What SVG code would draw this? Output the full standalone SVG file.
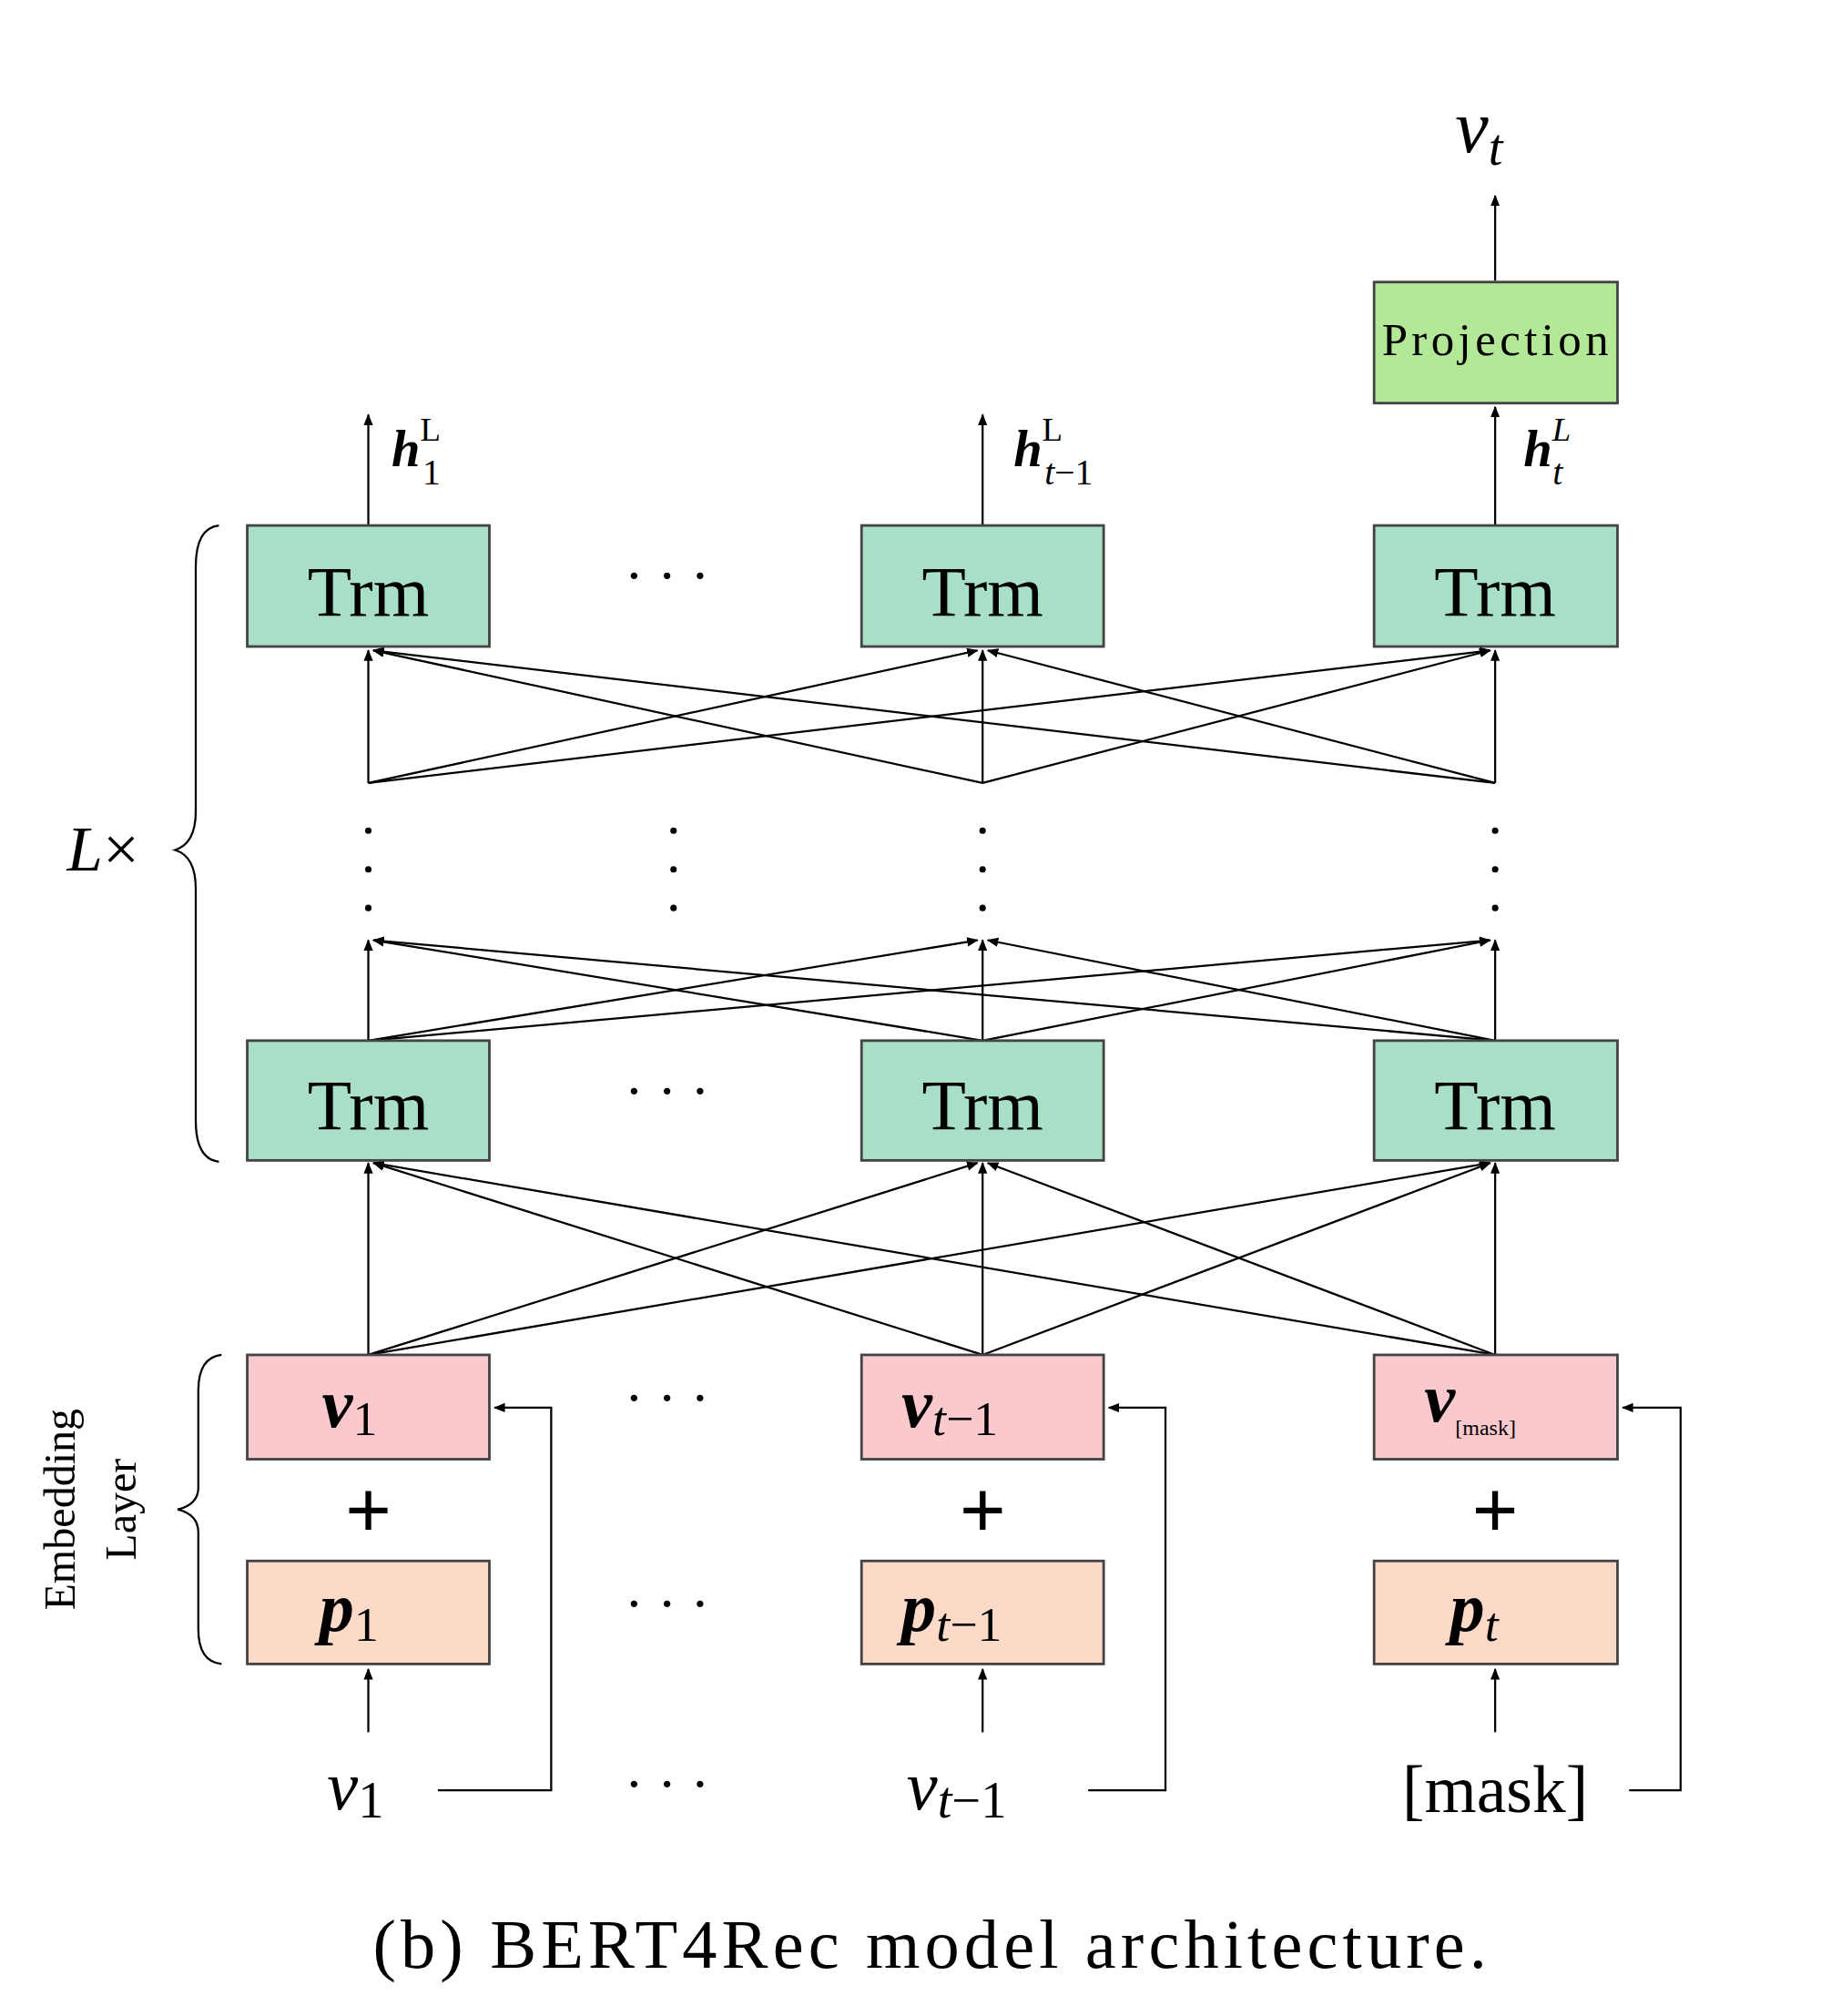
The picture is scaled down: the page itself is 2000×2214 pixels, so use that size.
<svg xmlns="http://www.w3.org/2000/svg" width="2000" height="2214" viewBox="0 0 2000 2214">
<style>
.t{font-family:"Liberation Serif","DejaVu Serif",serif;fill:#000}
.bi{font-style:italic;font-weight:bold}
.it{font-style:italic}
.n{font-style:normal;font-weight:normal}
.trm{fill:#a8dfc6;stroke:#444;stroke-width:2}
.ln{stroke:#000;stroke-width:1.6;fill:none}
</style>
<defs>
<marker id="a" viewBox="0 0 10 10" refX="9" refY="5" markerWidth="9" markerHeight="9" markerUnits="userSpaceOnUse" orient="auto"><path d="M0,1 L10,5 L0,9 Z" fill="#000"/></marker>
</defs>
<rect width="2000" height="2214" fill="#fff"/>
<g transform="scale(1.4144)">
<g id="connectors">
<line class="ln" x1="1161" y1="218" x2="1161" y2="152" marker-end="url(#a)"/>
<line class="ln" x1="286" y1="408" x2="286" y2="322" marker-end="url(#a)"/>
<line class="ln" x1="763" y1="408" x2="763" y2="322" marker-end="url(#a)"/>
<line class="ln" x1="1161" y1="408" x2="1161" y2="316" marker-end="url(#a)"/>
<g marker-end="url(#a)">
<line class="ln" x1="286" y1="608" x2="286" y2="505"/>
<line class="ln" x1="763" y1="608" x2="763" y2="505"/>
<line class="ln" x1="1161" y1="608" x2="1161" y2="505"/>
<line class="ln" x1="763" y1="608" x2="290" y2="505"/>
<line class="ln" x1="1161" y1="608" x2="290" y2="505"/>
<line class="ln" x1="286" y1="608" x2="759" y2="505"/>
<line class="ln" x1="1161" y1="608" x2="767" y2="505"/>
<line class="ln" x1="286" y1="608" x2="1157" y2="505"/>
<line class="ln" x1="763" y1="608" x2="1157" y2="505"/>
</g>
<g marker-end="url(#a)">
<line class="ln" x1="286" y1="808" x2="286" y2="730"/>
<line class="ln" x1="763" y1="808" x2="763" y2="730"/>
<line class="ln" x1="1161" y1="808" x2="1161" y2="730"/>
<line class="ln" x1="763" y1="808" x2="290" y2="730"/>
<line class="ln" x1="1161" y1="808" x2="290" y2="730"/>
<line class="ln" x1="286" y1="808" x2="759" y2="730"/>
<line class="ln" x1="1161" y1="808" x2="767" y2="730"/>
<line class="ln" x1="286" y1="808" x2="1157" y2="730"/>
<line class="ln" x1="763" y1="808" x2="1157" y2="730"/>
</g>
<g marker-end="url(#a)">
<line class="ln" x1="286" y1="1052" x2="286" y2="903"/>
<line class="ln" x1="763" y1="1052" x2="763" y2="903"/>
<line class="ln" x1="1161" y1="1052" x2="1161" y2="903"/>
<line class="ln" x1="763" y1="1052" x2="290" y2="903"/>
<line class="ln" x1="1161" y1="1052" x2="290" y2="903"/>
<line class="ln" x1="286" y1="1052" x2="759" y2="903"/>
<line class="ln" x1="1161" y1="1052" x2="767" y2="903"/>
<line class="ln" x1="286" y1="1052" x2="1157" y2="903"/>
<line class="ln" x1="763" y1="1052" x2="1157" y2="903"/>
</g>
<line class="ln" x1="286" y1="1345" x2="286" y2="1296" marker-end="url(#a)"/>
<line class="ln" x1="763" y1="1345" x2="763" y2="1296" marker-end="url(#a)"/>
<line class="ln" x1="1161" y1="1345" x2="1161" y2="1296" marker-end="url(#a)"/>
<polyline class="ln" points="340,1390 428,1390 428,1093 384,1093" marker-end="url(#a)"/>
<polyline class="ln" points="845,1390 905,1390 905,1093 861,1093" marker-end="url(#a)"/>
<polyline class="ln" points="1265,1390 1305,1390 1305,1093 1260,1093" marker-end="url(#a)"/>
</g>

<g id="vt"><text class="t it" x="1130" y="118" font-size="58">v<tspan font-size="40" dy="10">t</tspan></text></g>
<g id="projection"><rect x="1067" y="219" width="189" height="94" fill="#b3e896" stroke="#444" stroke-width="2"/><text class="t" x="1161" y="276" font-size="36" text-anchor="middle" textLength="176">Projection</text></g>

<g id="hlabels">
<text class="t bi" x="304" y="362" font-size="40">h<tspan class="n" font-size="26" dy="-20">L</tspan><tspan class="n" font-size="28" dx="-14" dy="34">1</tspan></text>
<text class="t bi" x="787" y="362" font-size="40">h<tspan class="n" font-style="italic" font-size="26" dy="-20">L</tspan><tspan font-style="italic" font-weight="normal" font-size="28" dx="-14" dy="34">t</tspan><tspan class="n" font-size="28">−1</tspan></text>
<text class="t bi" x="1183" y="362" font-size="40">h<tspan font-style="italic" font-weight="normal" font-size="26" dy="-20">L</tspan><tspan font-style="italic" font-weight="normal" font-size="28" dx="-14" dy="34">t</tspan></text>
</g>

<g id="trm-top">
<rect class="trm" x="192" y="408" width="188" height="94"/><text class="t" x="286" y="478" font-size="56" text-anchor="middle">Trm</text>
<rect class="trm" x="669" y="408" width="188" height="94"/><text class="t" x="763" y="478" font-size="56" text-anchor="middle">Trm</text>
<rect class="trm" x="1067" y="408" width="189" height="94"/><text class="t" x="1161" y="478" font-size="56" text-anchor="middle">Trm</text>
</g>
<g id="trm-bottom">
<rect class="trm" x="192" y="808" width="188" height="93"/><text class="t" x="286" y="877" font-size="56" text-anchor="middle">Trm</text>
<rect class="trm" x="669" y="808" width="188" height="93"/><text class="t" x="763" y="877" font-size="56" text-anchor="middle">Trm</text>
<rect class="trm" x="1067" y="808" width="189" height="93"/><text class="t" x="1161" y="877" font-size="56" text-anchor="middle">Trm</text>
</g>

<g id="dots" fill="#000">
<circle cx="286" cy="645" r="2.5"/><circle cx="286" cy="675" r="2.5"/><circle cx="286" cy="705" r="2.5"/>
<circle cx="523" cy="645" r="2.5"/><circle cx="523" cy="675" r="2.5"/><circle cx="523" cy="705" r="2.5"/>
<circle cx="763" cy="645" r="2.5"/><circle cx="763" cy="675" r="2.5"/><circle cx="763" cy="705" r="2.5"/>
<circle cx="1161" cy="645" r="2.5"/><circle cx="1161" cy="675" r="2.5"/><circle cx="1161" cy="705" r="2.5"/>
</g>
<g id="hdots">
<text class="t" x="518" y="462" font-size="44" text-anchor="middle">· · ·</text>
<text class="t" x="518" y="862" font-size="44" text-anchor="middle">· · ·</text>
<text class="t" x="518" y="1100" font-size="44" text-anchor="middle">· · ·</text>
<text class="t" x="518" y="1260" font-size="44" text-anchor="middle">· · ·</text>
<text class="t" x="518" y="1400" font-size="44" text-anchor="middle">· · ·</text>
</g>

<g id="brace-L">
<path class="ln" d="M170,408 Q152,410 152,440 L152,630 Q152,655 136,660 Q152,665 152,690 L152,870 Q152,900 170,902"/>
<text class="t it" x="52" y="676" font-size="50">L<tspan font-style="normal">×</tspan></text>
</g>

<g id="embeddings">
<rect x="192" y="1052" width="188" height="81" fill="#f9c9ce" stroke="#444" stroke-width="2"/>
<text class="t bi" x="250" y="1108" font-size="54">v<tspan class="n" font-size="38" dy="6">1</tspan></text>
<rect x="669" y="1052" width="188" height="81" fill="#f9c9ce" stroke="#444" stroke-width="2"/>
<text class="t bi" x="700" y="1108" font-size="54">v<tspan font-weight="normal" font-size="38" dy="6">t</tspan><tspan class="n" font-size="38">−1</tspan></text>
<rect x="1067" y="1052" width="189" height="81" fill="#f9c9ce" stroke="#444" stroke-width="2"/>
<text class="t bi" x="1106" y="1104" font-size="54">v<tspan class="n" font-size="17" dy="10">[mask]</tspan></text>
<text class="t" font-weight="bold" x="286" y="1194" font-size="64" text-anchor="middle">+</text>
<text class="t" font-weight="bold" x="763" y="1194" font-size="64" text-anchor="middle">+</text>
<text class="t" font-weight="bold" x="1161" y="1194" font-size="64" text-anchor="middle">+</text>
<rect x="192" y="1212" width="188" height="80" fill="#fdd9c8" stroke="#444" stroke-width="2"/>
<text class="t bi" x="248" y="1266" font-size="54">p<tspan class="n" font-size="38" dy="8">1</tspan></text>
<rect x="669" y="1212" width="188" height="80" fill="#fdd9c8" stroke="#444" stroke-width="2"/>
<text class="t bi" x="700" y="1266" font-size="54">p<tspan font-weight="normal" font-size="38" dy="8">t</tspan><tspan class="n" font-size="38">−1</tspan></text>
<rect x="1067" y="1212" width="189" height="80" fill="#fdd9c8" stroke="#444" stroke-width="2"/>
<text class="t bi" x="1126" y="1266" font-size="54">p<tspan font-weight="normal" font-size="38" dy="8">t</tspan></text>
</g>

<g id="brace-emb">
<path class="ln" d="M172,1052 Q154,1054 154,1080 L154,1155 Q154,1168 138,1172 Q154,1176 154,1190 L154,1265 Q154,1290 172,1292"/>
<text class="t" font-size="34" text-anchor="middle" transform="translate(58,1172) rotate(-90)">Embedding</text>
<text class="t" font-size="34" text-anchor="middle" transform="translate(105,1172) rotate(-90)">Layer</text>
</g>

<g id="inputs">
<text class="t it" x="254" y="1405" font-size="54">v<tspan font-style="normal" font-size="40" dy="6">1</tspan></text>
<text class="t it" x="704" y="1405" font-size="54">v<tspan font-size="40" dy="6">t</tspan><tspan font-style="normal" font-size="40">−1</tspan></text>
<text class="t" x="1161" y="1407" font-size="52" text-anchor="middle">[mask]</text>
</g>

<g id="caption"><text class="t" x="722" y="1528" font-size="54" text-anchor="middle" textLength="865">(b) BERT4Rec model architecture.</text></g>
</g>
</svg>
